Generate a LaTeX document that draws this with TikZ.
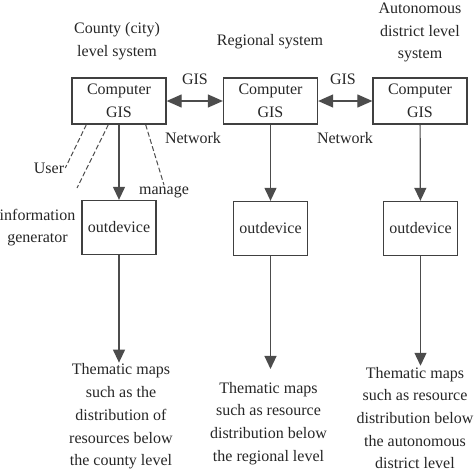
\documentclass[tikz,border=0pt]{standalone}
\usepackage{fontspec}
\setmainfont{Liberation Serif}
\usetikzlibrary{arrows.meta}
\begin{document}
\begin{tikzpicture}[x=1pt, y=-1pt, >={Triangle[width=12pt,length=13pt]},
    font=\fontsize{16}{22.7}\selectfont, text=black!85,
    box/.style={draw=black!75, line width=1.3pt, minimum width=94pt, minimum height=46pt, align=center, inner sep=0pt},
    outbox/.style={box, minimum width=74pt, minimum height=54pt},
    lbl/.style={align=center, inner sep=1pt},
    link/.style={draw=black!70, line width=1.2pt},
    talk/.style={draw=black!70, line width=1pt, dash pattern=on 5pt off 2.5pt}]
  \useasboundingbox (0,0) rectangle (474,474);
  % level titles
  \node[lbl] (cttl) at (117,41) {County (city)\\level system};
  \node[lbl] (rttl) at (270,42) {Regional system};
  \node[lbl] (attl) at (420,32.5) {Autonomous\\district level\\system};
  % computers
  \node[box] (cty) at (119,101) {Computer\\GIS};
  \node[box] (reg) at (270.5,101) {Computer\\GIS};
  \node[box] (aut) at (420,101) {Computer\\GIS};
  \draw[link, <->, >={Triangle[width=13pt,length=15pt]}] (cty) -- (reg);
  \draw[link, <->, >={Triangle[width=13pt,length=15pt]}] (reg) -- (aut);
  \node[lbl] (gis1) at (195,79) {GIS};
  \node[lbl] (gis2) at (343,79) {GIS};
  \node[lbl] (net1) at (193,138) {Network};
  \node[lbl] (net2) at (345,138) {Network};
  % outdevices
  \node[outbox] (out1) at (119,227.5) {outdevice};
  \node[outbox] (out2) at (270.5,228.5) {outdevice};
  \node[outbox] (out3) at (420.5,228.5) {outdevice};
  \draw[link, ->] (cty) -- (out1);
  \draw[link, ->] (reg) -- (out2);
  \draw[link, ->] (aut) -- (out3);
  % county users
  \node[lbl] (user) at (49,168) {User};
  \node[lbl] (gen) at (37.5,227.5) {information\\generator};
  \node[lbl] (mng) at (164,192) {manage};
  \coordinate (genend) at (77,188);
  \draw[talk] ([xshift=15pt]cty.south west) -- (user.east);
  \draw[talk] ([xshift=37pt]cty.south west) -- (genend);
  \draw[talk] ([xshift=-21pt]cty.south east) -- (mng.north);
  % thematic maps
  \node[lbl] (map1) at (121,416.5) {Thematic maps\\such as the\\distribution of\\resources below\\the county level};
  \node[lbl] (map2) at (268.5,423.5) {Thematic maps\\such as resource\\distribution below\\the regional level};
  \node[lbl] (map3) at (415,418) {Thematic maps\\such as resource\\distribution below\\the autonomous\\district level};
  \draw[link, ->] (out1.south) -- (out1.south |- map1.north);
  \draw[link, ->, shorten >=12pt] (out2.south) -- (out2.south |- map2.north);
  \draw[link, ->] (out3.south) -- (out3.south |- map3.north);
\end{tikzpicture}
\end{document}
